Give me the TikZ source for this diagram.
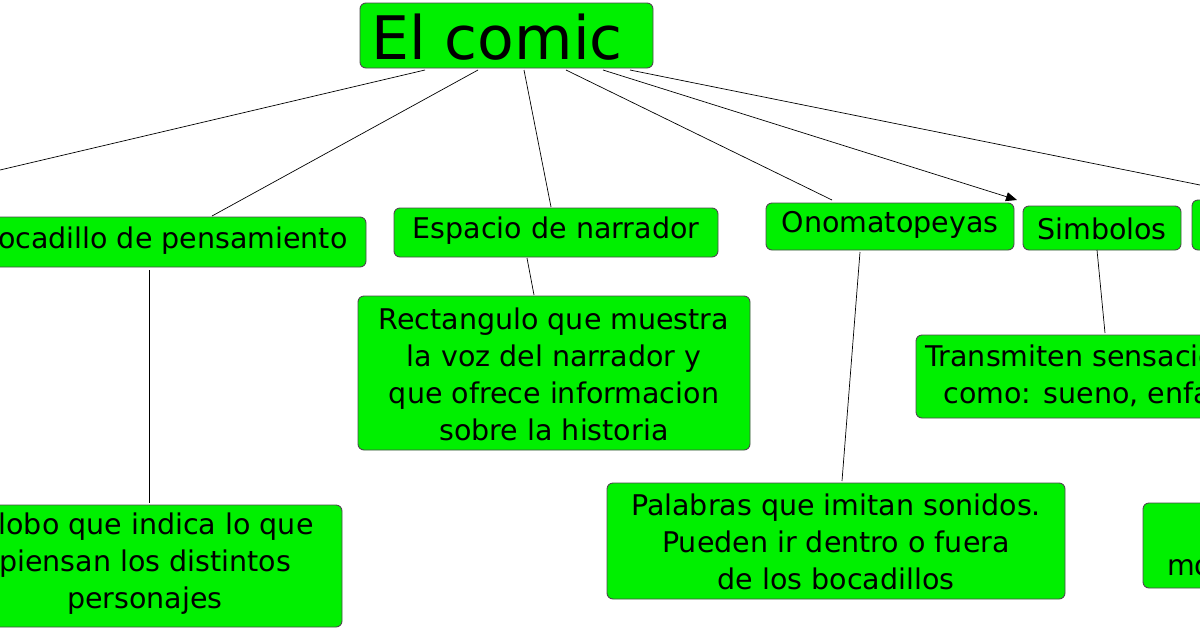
\documentclass[tikz,border=0pt]{standalone}
\usepackage{fontspec}
\setmainfont{DejaVu Sans}
\usetikzlibrary{arrows.meta}
\definecolor{boxg}{HTML}{00F000}
\begin{document}
\begin{tikzpicture}[x=1pt,y=-1pt,
  bx/.style={draw=black!70,line width=0.9pt,fill=boxg,rounded corners=6pt},
  tx/.style={font=\fontsize{28.5}{37}\selectfont,align=center},
  ln/.style={line width=0.7pt}]
\useasboundingbox (0,0) rectangle (1200,630);
\clip (0,0) rectangle (1200,630);
\fill[white] (0,0) rectangle (1200,630);
% boxes
\draw[bx] (360,3) rectangle (653,68);
\node[font=\fontsize{60}{70}\selectfont] (t) at (497,37) {El comic};
\draw[bx] (-40,217) rectangle (366,267);
\node[tx] (b) at (163,241) {Bocadillo de pensamiento};
\draw[bx] (394,208) rectangle (718,257);
\node[tx] (e) at (556,231) {Espacio de narrador};
\draw[bx] (766,203) rectangle (1014,250);
\node[tx] (o) at (890,225) {Onomatopeyas};
\draw[bx] (1023,206) rectangle (1181,250);
\node[tx] (s) at (1102,229) {Simbolos};
\draw[bx] (1192,200) rectangle (1320,250);
\draw[bx] (358,296) rectangle (750,450);
\node[tx] (r) at (554,374) {Rectangulo que muestra\\la voz del narrador y\\que ofrece informacion\\sobre la historia};
\draw[bx] (916,335) rectangle (1320,418);
\node[tx,anchor=west,align=left] (tr) at (922,376) {Transmiten sensaciones\\\ \ como: sueno, enfado};
\draw[bx] (607,483) rectangle (1065,599);
\node[tx] (p) at (836,542) {Palabras que imitan sonidos.\\Pueden ir dentro o fuera\\de los bocadillos};
\draw[bx] (-40,505) rectangle (342,627);
\node[tx] (g) at (145,564) {Globo que indica lo que\\piensan los distintos\\personajes};
\draw[bx] (1143,503) rectangle (1360,588);
\node[tx] (i) at (1252,546) {Indican\\movimiento};
% connector end points
\coordinate (t1) at (425,70); \coordinate (x1) at (0,170);
\coordinate (t2) at (478,70); \coordinate (b1) at (212,216);
\coordinate (t3) at (524,70); \coordinate (e1) at (551,207);
\coordinate (t4) at (566,70); \coordinate (o1) at (832,200);
\coordinate (t5) at (603,70); \coordinate (a1) at (1017,200);
\coordinate (t6) at (630,70); \coordinate (x2) at (1200,185);
\coordinate (b2) at (149,270); \coordinate (g1) at (149,503);
\coordinate (e2) at (527,258); \coordinate (r1) at (534,295);
\coordinate (o2) at (860,252); \coordinate (p1) at (842,481);
\coordinate (s2) at (1097,250); \coordinate (tr1) at (1105,333);
\draw[ln] (t1)--(x1); \draw[ln] (t2)--(b1); \draw[ln] (t3)--(e1);
\draw[ln] (t4)--(o1); \draw[ln,-{Triangle[length=11pt,width=9pt]}] (t5)--(a1);
\draw[ln] (t6)--(x2); \draw[ln] (b2)--(g1); \draw[ln] (e2)--(r1);
\draw[ln] (o2)--(p1); \draw[ln] (s2)--(tr1);
\end{tikzpicture}
\end{document}
